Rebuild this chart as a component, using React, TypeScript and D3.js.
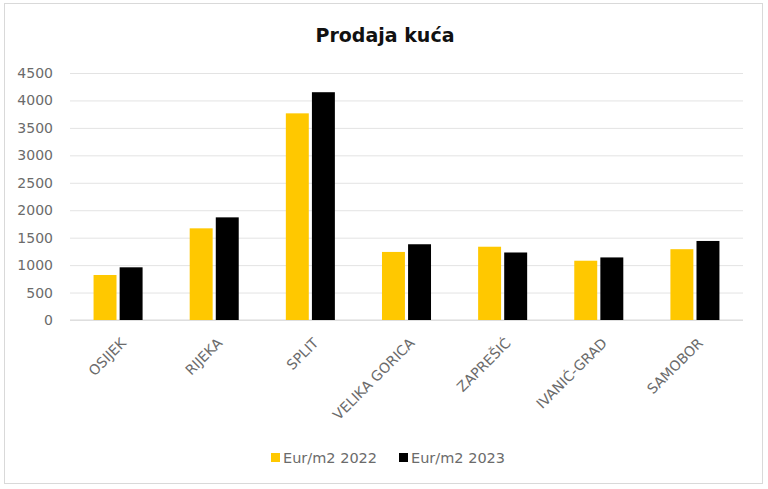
import { useEffect, useRef } from "react";
import * as d3 from "d3";

const categories = ["OSIJEK", "RIJEKA", "SPLIT", "VELIKA GORICA", "ZAPREŠIĆ", "IVANIĆ-GRAD", "SAMOBOR"];
const series = ["Eur/m2 2022", "Eur/m2 2023"];
const values2022 = [820, 1670, 3765, 1240, 1335, 1080, 1290];
const values2023 = [960, 1870, 4150, 1380, 1230, 1140, 1440];
const yTicks = [0, 500, 1000, 1500, 2000, 2500, 3000, 3500, 4000, 4500];
const colors = ["#FFC800", "#000000"];

export default function App() {
  const svgRef = useRef<SVGSVGElement | null>(null);

  useEffect(() => {
    if (!svgRef.current) return;
    const svg = d3.select(svgRef.current);
    svg.selectAll("*").remove();

    const width = 768;
    const height = 489;
    const margin = { top: 73, right: 25, bottom: 169, left: 70 };
    const innerWidth = width - margin.left - margin.right;
    const innerHeight = height - margin.top - margin.bottom;
    const font = "'DejaVu Sans', Verdana, sans-serif";
    const textGray = "#6b6b6b";

    svg.attr("viewBox", `0 0 ${width} ${height}`);

    svg
      .append("rect")
      .attr("x", 4.5)
      .attr("y", 3.5)
      .attr("width", 758)
      .attr("height", 480)
      .attr("fill", "#fff")
      .attr("stroke", "#d9d9d9");

    svg
      .append("text")
      .attr("x", width / 2 + 1)
      .attr("y", 42)
      .attr("text-anchor", "middle")
      .attr("font-family", font)
      .attr("font-weight", "bold")
      .attr("font-size", 19)
      .attr("fill", "#111")
      .text("Prodaja kuća");

    const root = svg.append("g").attr("transform", `translate(${margin.left},${margin.top})`);

    const x = d3.scaleBand().domain(categories).range([0, innerWidth]).paddingInner(0.49).paddingOuter(0.245);
    const x1 = d3.scaleBand().domain(series).range([0, x.bandwidth()]).paddingInner(0.12);
    const y = d3.scaleLinear().domain([0, 4500]).range([innerHeight, 0]);

    root
      .append("g")
      .call(d3.axisLeft(y).tickValues(yTicks).tickFormat(d3.format("d")).tickSize(-innerWidth).tickPadding(17))
      .call((axis) => axis.select(".domain").remove())
      .call((axis) => axis.selectAll("line").attr("stroke", "#e3e3e3"))
      .call((axis) =>
        axis.selectAll("text").attr("fill", textGray).attr("font-size", 14).attr("font-family", font),
      );

    root
      .append("line")
      .attr("x1", 0)
      .attr("x2", innerWidth)
      .attr("y1", innerHeight)
      .attr("y2", innerHeight)
      .attr("stroke", "#d9d9d9");

    const rows = categories.map((c, i) => ({ category: c, values: [values2022[i], values2023[i]] }));

    root
      .selectAll("g.group")
      .data(rows)
      .join("g")
      .attr("class", "group")
      .attr("transform", (d) => `translate(${x(d.category)},0)`)
      .selectAll("rect")
      .data((d) => d.values.map((v, i) => ({ key: series[i], value: v, color: colors[i] })))
      .join("rect")
      .attr("x", (d) => x1(d.key) ?? 0)
      .attr("width", x1.bandwidth())
      .attr("y", (d) => y(d.value))
      .attr("height", (d) => innerHeight - y(d.value))
      .attr("fill", (d) => d.color);

    root
      .append("g")
      .selectAll("text")
      .data(categories)
      .join("text")
      .attr("transform", (d) => `translate(${(x(d) ?? 0) + x.bandwidth() / 2 + 9},${innerHeight + 24}) rotate(-45)`)
      .attr("text-anchor", "end")
      .attr("font-family", font)
      .attr("font-size", 14)
      .attr("fill", textGray)
      .text((d) => d);

    const legend = svg.append("g").attr("transform", "translate(271,463)");
    const legendX = [0, 128];
    series.forEach((s, i) => {
      const g = legend.append("g").attr("transform", `translate(${legendX[i]},0)`);
      g.append("rect").attr("x", 0).attr("y", -10).attr("width", 9).attr("height", 9).attr("fill", colors[i]);
      g.append("text")
        .attr("x", 12)
        .attr("y", 0)
        .attr("font-family", font)
        .attr("font-size", 14.5)
        .attr("fill", textGray)
        .text(s);
    });
  }, []);

  return (
    <svg
      ref={svgRef}
      width={768}
      height={489}
      style={{ position: "absolute", left: 0, top: 0, display: "block" }}
    />
  );
}
